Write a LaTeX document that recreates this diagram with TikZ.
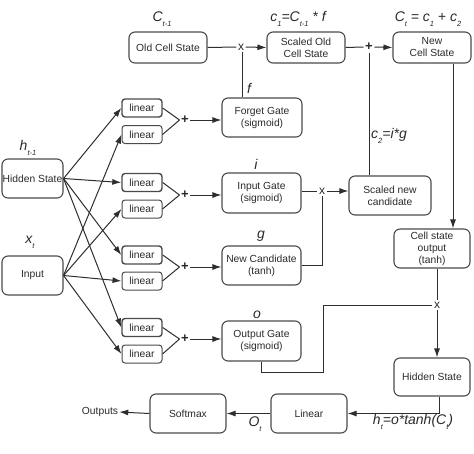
\documentclass[tikz,border=0pt]{standalone}
\usepackage{fontspec}
\setmainfont{Liberation Sans}
\usetikzlibrary{arrows.meta}
\definecolor{boxc}{HTML}{4A4A4A}
\definecolor{linec}{HTML}{2E2E2E}
\definecolor{txt}{HTML}{2A2A2A}
\newcommand{\sbs}[1]{\raisebox{-5pt}{\fontsize{7.5}{7.5}\selectfont #1}}
\begin{document}
\begin{tikzpicture}[x=1pt,y=-1pt,
  box/.style={draw=boxc, rounded corners=6pt, line width=1.1pt, align=center,
    font=\fontsize{10.3}{12}\selectfont, text=txt, inner sep=0pt,
    minimum width=78pt, minimum height=31pt},
  lin/.style={draw=boxc, rounded corners=3pt, line width=1pt, minimum width=40pt,
    minimum height=18pt, inner sep=0pt, font=\fontsize{10.3}{11}\selectfont, text=txt},
  linb/.style={lin, line width=1.4pt},
  op/.style={font=\fontsize{12}{12}\selectfont, text=txt, inner sep=1.5pt},
  pls/.style={font=\bfseries\fontsize{13}{13}\selectfont, text=txt, inner sep=1.5pt},
  lab/.style={font=\fontsize{14}{14}\selectfont\itshape, text=txt, inner sep=0pt},
  arr/.style={-{Latex[length=9pt,width=6pt]}, draw=linec, line width=1pt},
  ln/.style={draw=linec, line width=1pt}]
\useasboundingbox (0,0) rectangle (474,453);

% top row
\node[box] (ocs) at (168,47.5) {Old Cell State};
\node[op] (xm1) at (241,47) {x};
\node[box] (sos) at (306,47.5) {Scaled Old\\Cell State};
\node[pls] (pl) at (369,47) {+};
\node[box] (nc) at (432,47.5) {New\\Cell State};
\node[lab] (lcprev) at (162,19) {C\sbs{t-1}};
\node[lab] (lc1) at (298,19) {c\sbs{1}=C\sbs{t-1} * f};
\node[lab] (lct) at (428,19) {C\sbs{t} = c\sbs{1} + c\sbs{2}};

% inputs
\node[box, minimum width=61pt, minimum height=39pt] (hs) at (32.5,178.5) {Hidden State};
\node[box, minimum width=61pt, minimum height=39pt] (inp) at (32.5,275.5) {Input};
\node[lab] (lh) at (28,148) {h\sbs{t-1}};
\node[lab] (lx) at (30,242) {x\sbs{t}};

% linear boxes
\node[linb] (l1) at (142,108) {linear};
\node[lin] (l2) at (142,134.5) {linear};
\node[linb] (l3) at (142,182.5) {linear};
\node[lin] (l4) at (142,209) {linear};
\node[linb] (l5) at (142,255) {linear};
\node[lin] (l6) at (142,281) {linear};
\node[linb] (l7) at (142,327.5) {linear};
\node[lin] (l8) at (142,354) {linear};

\node[pls] (p1) at (185,120) {+};
\node[pls] (p2) at (185,195) {+};
\node[pls] (p3) at (185,267) {+};
\node[pls] (p4) at (185,339) {+};

% gates
\node[box, minimum width=80pt, minimum height=39pt] (fg) at (262,117.5) {Forget Gate\\(sigmoid)};
\node[box, minimum width=79pt, minimum height=40pt] (ig) at (261.5,193) {Input Gate\\(sigmoid)};
\node[box, minimum width=79pt, minimum height=39pt] (ncd) at (261.5,265.5) {New Candidate\\(tanh)};
\node[box, minimum width=79pt, minimum height=40pt] (og) at (261.5,341) {Output Gate\\(sigmoid)};
\node[lab] (lf) at (249,88) {f};
\node[lab] (li) at (256,164) {i};
\node[lab] (lg) at (261,236) {g};
\node[lab] (lo) at (257,315) {o};

\node[op] (xm2) at (322,191) {x};
\node[box, minimum width=82pt, minimum height=39pt] (sn) at (390,195.5) {Scaled new\\candidate};
\node[lab] (lc2) at (389,136) {c\sbs{2}=i*g};

\node[box, minimum width=76pt, minimum height=39pt] (cso) at (432,248.5) {Cell state\\output\\(tanh)};
\node[op] (xm3) at (437,305) {x};
\node[box, minimum width=76pt, minimum height=38pt] (hs2) at (432,377) {Hidden State};
\node[box, minimum width=76pt, minimum height=39pt] (lo2) at (309,413.5) {Linear};
\node[box, minimum width=76pt, minimum height=39pt] (sm) at (188,413.5) {Softmax};
\node[font=\fontsize{10.3}{11}\selectfont, text=txt, inner sep=1pt] (outp) at (100,412) {Outputs};
\node[lab] (lot) at (255,424) {O\sbs{t}};
\node[lab] (lht) at (413,422) {h\sbs{t}=o*tanh(C\sbs{t})};

% top connectors
\draw[ln] (ocs.east) -- (xm1.west);
\draw[arr] (xm1.east) -- (sos.west);
\draw[ln] (sos.east) -- (pl.west);
\draw[arr] (pl.east) -- (nc.west);
\draw[ln] ([xshift=1pt]xm1.south) -- ([xshift=1pt]xm1.south |- fg.north);
\draw[ln] (pl.south) -- (pl.south |- sn.north);
\draw[arr] ([xshift=21pt]nc.south) -- ([xshift=21pt]nc.south |- cso.north);

% inputs to linear
\foreach \t in {l1,l3,l5,l7} \draw[arr] (hs.east) -- (\t.west);
\foreach \t in {l2,l4,l6,l8} \draw[arr] (inp.east) -- (\t.west);

% linear to plus
\draw[ln] (l1.east) -- (p1.west); \draw[ln] (l2.east) -- (p1.west);
\draw[ln] (l3.east) -- (p2.west); \draw[ln] (l4.east) -- (p2.west);
\draw[ln] (l5.east) -- (p3.west); \draw[ln] (l6.east) -- (p3.west);
\draw[ln] (l7.east) -- (p4.west); \draw[ln] (l8.east) -- (p4.west);
\draw[arr] (p1.east) -- (p1.east -| fg.west);
\draw[arr] (p2.east) -- (p2.east -| ig.west);
\draw[arr] (p3.east) -- (p3.east -| ncd.west);
\draw[arr] (p4.east) -- (p4.east -| og.west);

% middle
\draw[ln] (ig.east |- xm2) -- (xm2.west);
\draw[arr] (xm2.east) -- (xm2.east -| sn.west);
\draw[ln] (ncd.east) -| (xm2.south);

% output path
\draw[ln] (cso.south -| xm3) -- (xm3.north);
\draw[arr] (xm3.south) -- (xm3.south |- hs2.north);
\draw[ln] (og.south) -- ++(0,11) -| (323,305) -- (xm3.west);
\draw[arr] ([xshift=7pt]hs2.south) |- (lo2.east);
\draw[arr] (lo2.west) -- (sm.east);
\draw[arr] (sm.west) -- (outp.east);
\end{tikzpicture}
\end{document}
